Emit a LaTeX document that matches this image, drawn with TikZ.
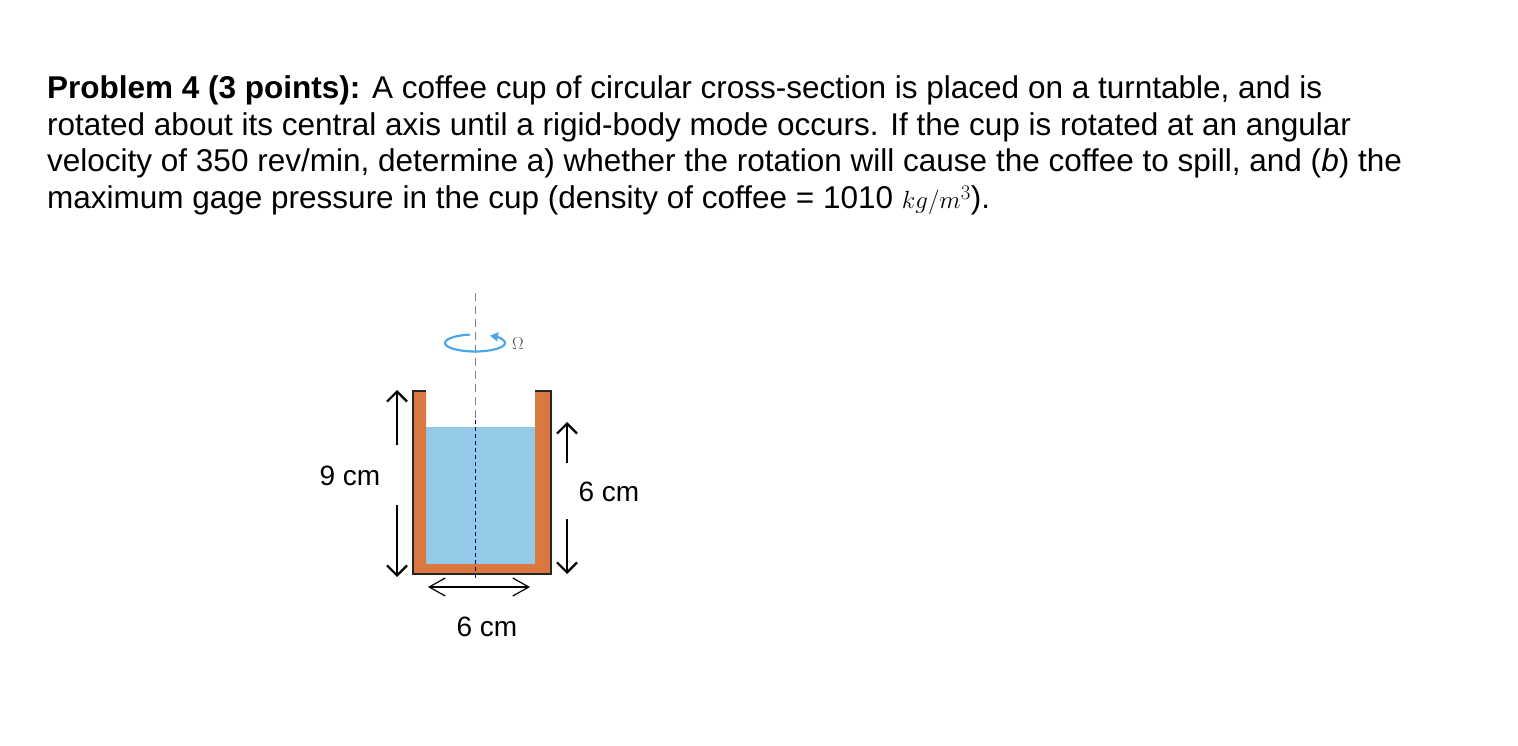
\documentclass[tikz,border=0pt]{standalone}
\usepackage{fontspec}
\setmainfont{Liberation Sans}
\usetikzlibrary{arrows.meta}
\definecolor{cupc}{HTML}{D97941}
\definecolor{water}{HTML}{94C9E8}
\definecolor{rot}{HTML}{4AA8E8}
\begin{document}
\begin{tikzpicture}[x=1pt,y=-1pt,
  tl/.style={anchor=base west,inner sep=0,font=\fontsize{31.5}{36}\selectfont},
  lab/.style={font=\fontsize{28}{32}\selectfont},
  dimarr/.style={-{Straight Barb[length=10pt,width=20pt,line width=2.2pt]},line width=2.2pt},
  openarr/.style={{Straight Barb[length=16pt,width=18pt,line width=1.2pt]}-{Straight Barb[length=16pt,width=18pt,line width=1.2pt]},line width=1.2pt}]
\useasboundingbox (0,0) rectangle (1518,746);
\node[tl] (l1) at (47,99) {\textbf{Problem 4 (3 points):} A coffee cup of circular cross-section is placed on a turntable, and is};
\node[tl] (l2) at (47,136) {rotated about its central axis until a rigid-body mode occurs. If the cup is rotated at an angular};
\node[tl] (l3) at (47,172) {velocity of 350 rev/min, determine a) whether the rotation will cause the coffee to spill, and (\textit{b}) the};
\node[tl] (l4) at (47,209) {maximum gage pressure in the cup (density of coffee = 1010 $kg/m^3$).};
% cup
\fill[water] (426,427) rectangle (535,564);
\fill[cupc] (413,391) -- (413,574) -- (551,574) -- (551,391) -- (535,391) -- (535,564) -- (426,564) -- (426,391) -- cycle;
\draw[line width=2.5pt,draw={black!85}] (426,391) -- (413,391) -- (413,574) -- (551,574) -- (551,391) -- (535,391);
% axis
\draw[gray,line width=0.8pt,dash pattern=on 8pt off 5pt] (475,293) -- (475,420);
\draw[black!60!blue,line width=0.8pt,dash pattern=on 4pt off 3pt] (475,420) -- (475,580);
% rotation
\begin{scope}[shift={(475,343)},yscale=-1]
\draw[rot,line width=2.2pt,-{Triangle[length=8pt,width=9pt]}] (-5.2,8.4) arc[start angle=100,end angle=420,x radius=30,y radius=8.5];
\end{scope}
\node[font=\fontsize{16}{18}\selectfont,text=black!70] (om) at (518,344) {$\Omega$};
% dims
\coordinate (a1) at (397,445); \coordinate (a2) at (397,390);
\coordinate (a3) at (397,505); \coordinate (a4) at (397,577);
\draw[dimarr] (a1) -- (a2); \draw[dimarr] (a3) -- (a4);
\node[lab] (t9) at (350,476) {9 cm};
\coordinate (b1) at (567,463); \coordinate (b2) at (567,422);
\coordinate (b3) at (567,519); \coordinate (b4) at (567,574);
\draw[dimarr] (b1) -- (b2); \draw[dimarr] (b3) -- (b4);
\node[lab] (t6r) at (609,492) {6 cm};
\coordinate (c1) at (428,587); \coordinate (c2) at (530,587);
\draw[openarr] (c1) -- (c2);
\node[lab] (t6b) at (487,627) {6 cm};
\end{tikzpicture}
\end{document}
